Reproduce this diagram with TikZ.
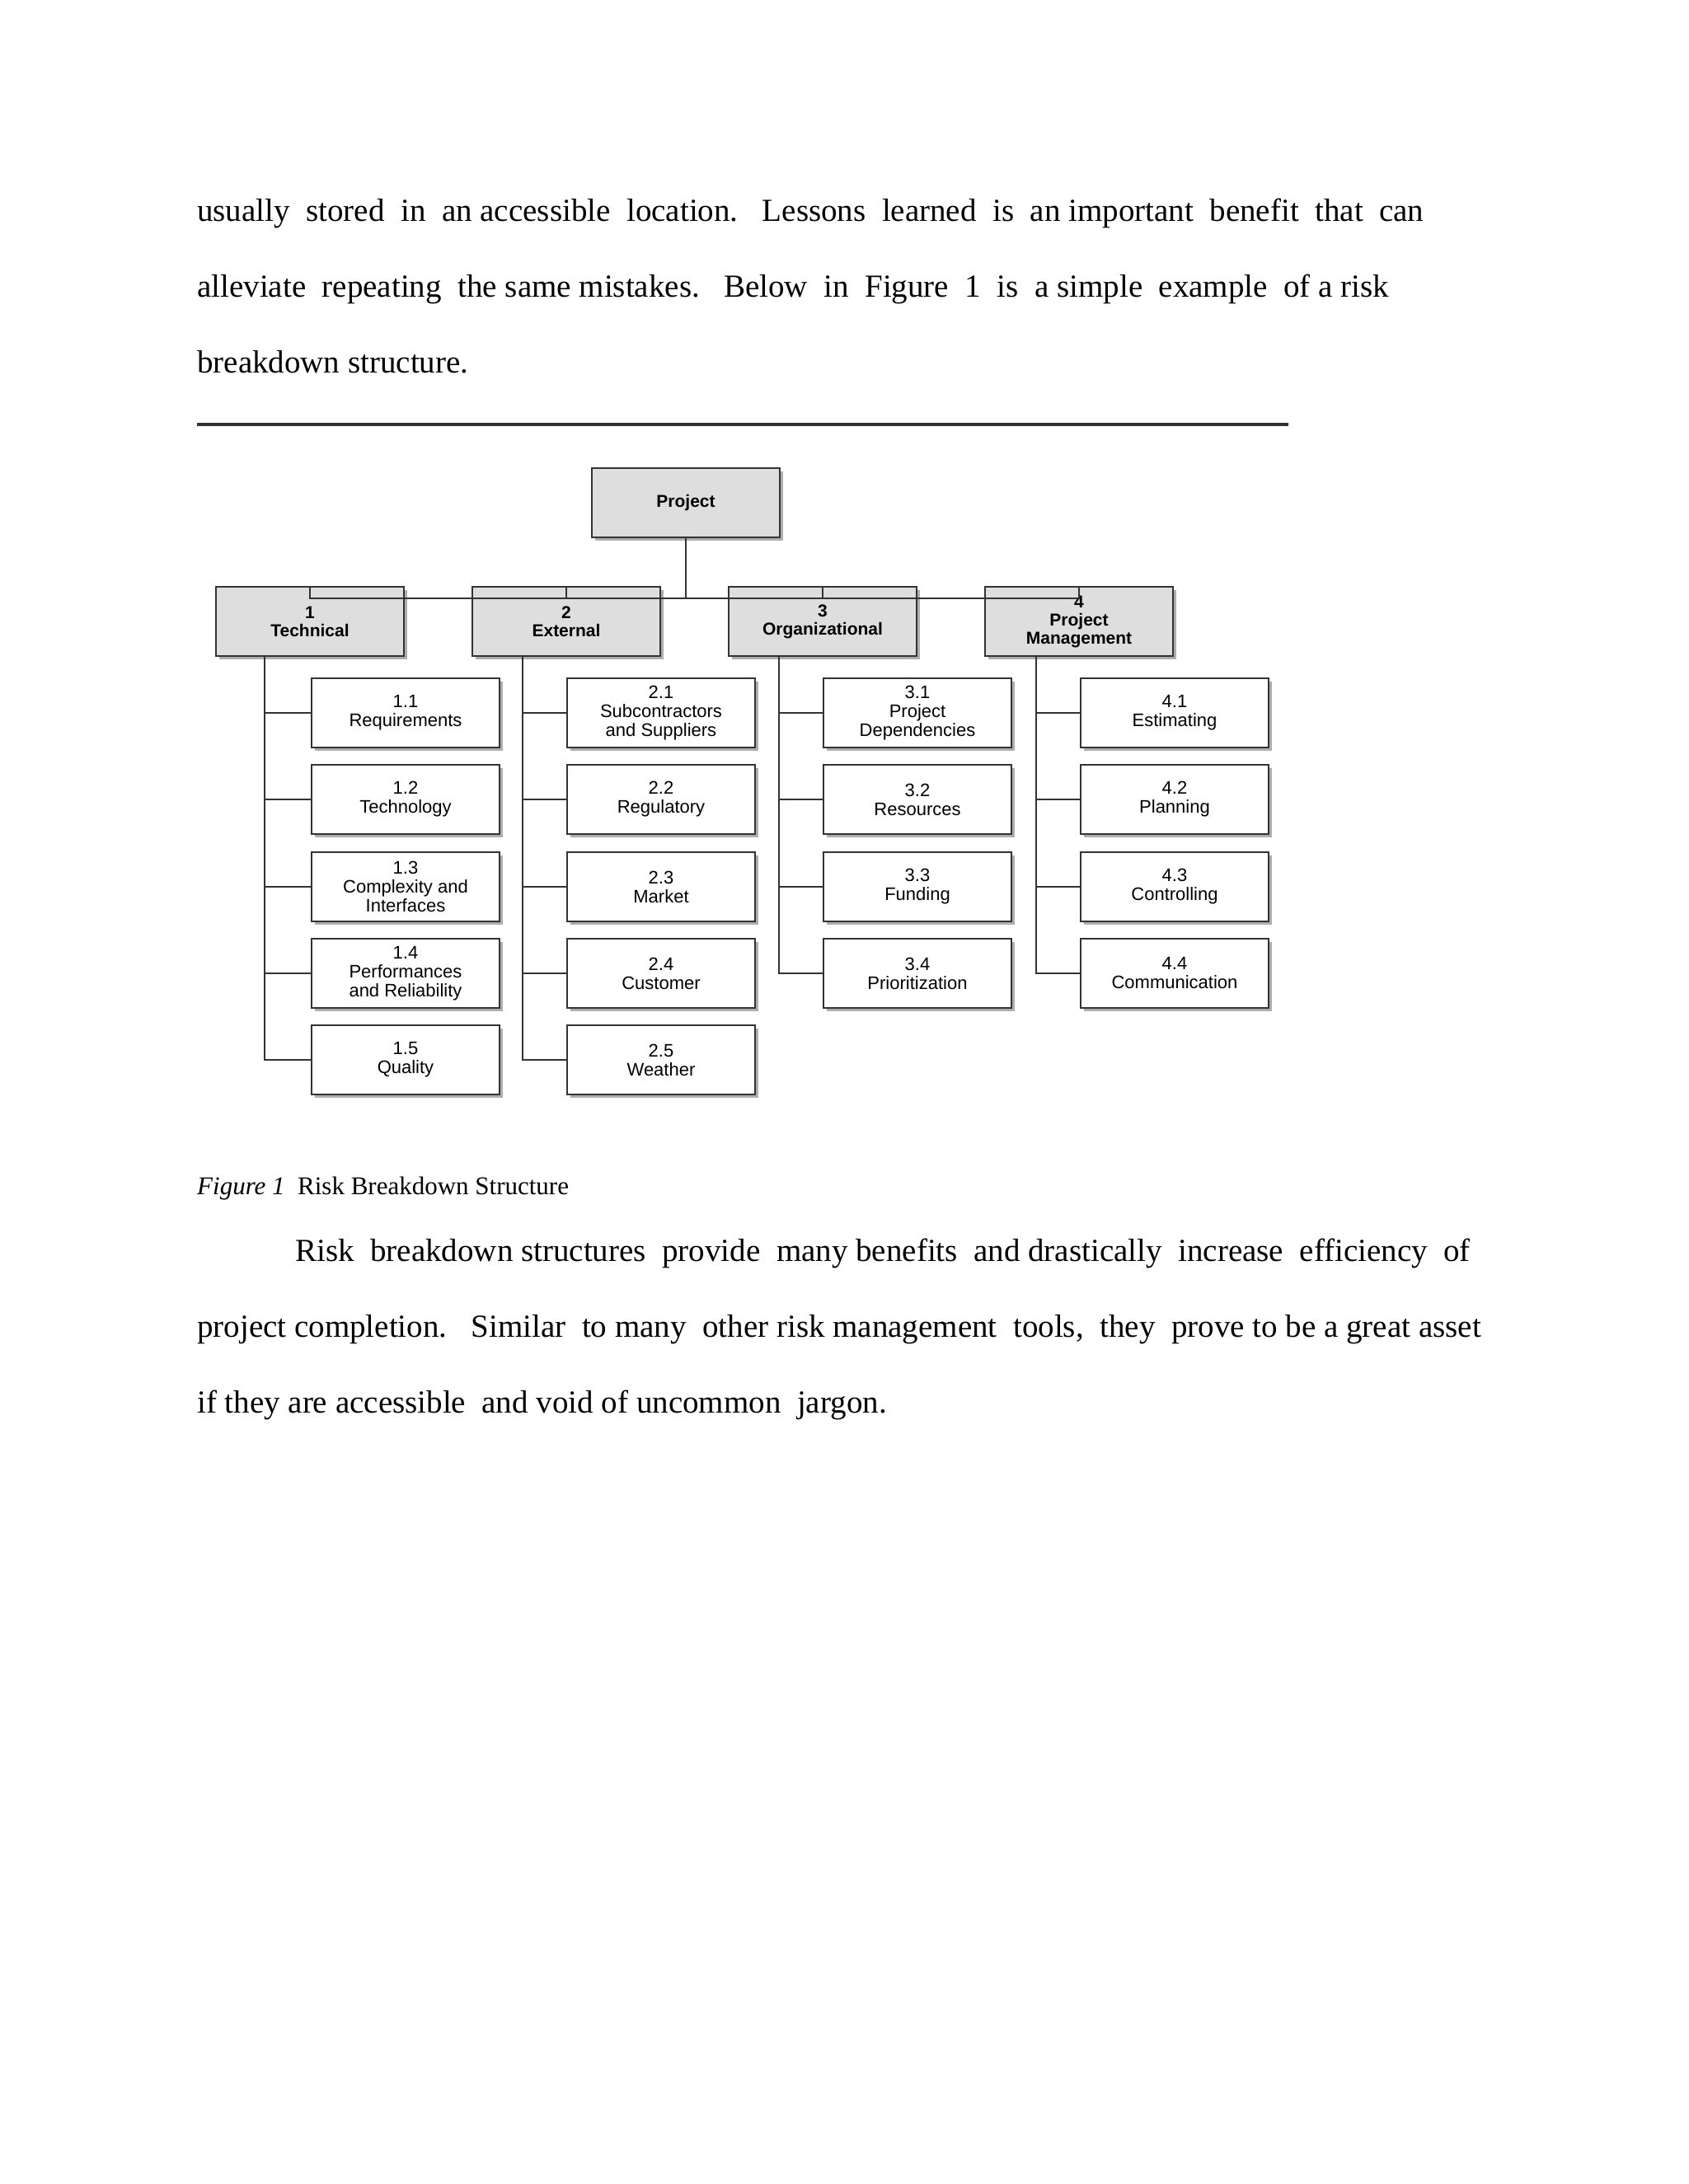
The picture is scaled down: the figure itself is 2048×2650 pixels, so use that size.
\documentclass[tikz,border=0pt]{standalone}
\usepackage{fontspec}
\setmainfont{Liberation Serif}
\setsansfont{Liberation Sans}
\usetikzlibrary{shadows}
\begin{document}
\begin{tikzpicture}[x=1pt,y=-1pt,
 body/.style={anchor=base west,inner sep=0,font=\fontsize{39}{46}\selectfont},
 box/.style={draw=black!80,line width=2.2pt,fill=white,minimum width=228,minimum height=84,align=center,inner sep=0,
   font=\sffamily\fontsize{22}{23}\selectfont,drop shadow={shadow xshift=4pt,shadow yshift=-4pt,fill=black!45,opacity=0.7}},
 top/.style={box,fill=black!13,font=\sffamily\bfseries\fontsize{21}{22}\selectfont},
 wire/.style={draw=black!80,line width=2.2pt}]
\useasboundingbox (0,0) rectangle (2048,2650);
\fill[white] (0,0) rectangle (2048,2650);
\node[body] (t1) at (239,268) {usually\ \ stored\ \ in\ \ an accessible\ \ location.\ \ \ Lessons\ \ learned\ \ is\ \ an important\ \ benefit\ \ that\ \ can};
\node[body] (t2) at (239,360) {alleviate\ \ repeating\ \ the same mistakes.\ \ \ Below\ \ in\ \ Figure\ \ 1\ \ is\ \ a simple\ \ example\ \ of a risk};
\node[body] (t3) at (239,452) {breakdown structure.};
\draw[line width=4pt,black!80] (239,515) -- (1563,515);

\node[top] (P) at (832,610) {Project};
\node[top] (A) at (376,754) {1\\Technical};
\node[top] (B) at (687,754) {2\\External};
\node[top] (C) at (998,754) {3\\Organizational};
\node[top] (D) at (1309,754) {4\\Project\\Management};
\foreach \n in {A,B,C,D} \draw[wire] (P.south) -- ++(0,73) -| (\n.north);

\node[box] (a1) at (492,865) {1.1\\Requirements};
\node[box] (a2) at (492,970) {1.2\\Technology};
\node[box] (a3) at (492,1076) {1.3\\Complexity and\\Interfaces};
\node[box] (a4) at (492,1181) {1.4\\Performances\\and Reliability};
\node[box] (a5) at (492,1286) {1.5\\Quality};
\node[box] (b1) at (802,865) {2.1\\Subcontractors\\and Suppliers};
\node[box] (b2) at (802,970) {2.2\\Regulatory};
\node[box] (b3) at (802,1076) {2.3\\Market};
\node[box] (b4) at (802,1181) {2.4\\Customer};
\node[box] (b5) at (802,1286) {2.5\\Weather};
\node[box] (c1) at (1113,865) {3.1\\Project\\Dependencies};
\node[box] (c2) at (1113,970) {3.2\\Resources};
\node[box] (c3) at (1113,1076) {3.3\\Funding};
\node[box] (c4) at (1113,1181) {3.4\\Prioritization};
\node[box] (d1) at (1425,865) {4.1\\Estimating};
\node[box] (d2) at (1425,970) {4.2\\Planning};
\node[box] (d3) at (1425,1076) {4.3\\Controlling};
\node[box] (d4) at (1425,1181) {4.4\\Communication};

\coordinate (ta) at ([xshift=-55pt]A.south);
\coordinate (tb) at ([xshift=-53pt]B.south);
\coordinate (tc) at ([xshift=-53pt]C.south);
\coordinate (td) at ([xshift=-52pt]D.south);
\draw[wire] (ta) |- (a5.west);
\draw[wire] (tb) |- (b5.west);
\draw[wire] (tc) |- (c4.west);
\draw[wire] (td) |- (d4.west);
\foreach \i in {1,...,4} \draw[wire] (ta |- a\i.west) -- (a\i.west);
\foreach \i in {1,...,4} \draw[wire] (tb |- b\i.west) -- (b\i.west);
\foreach \i in {1,...,3} \draw[wire] (tc |- c\i.west) -- (c\i.west);
\foreach \i in {1,...,3} \draw[wire] (td |- d\i.west) -- (d\i.west);

\node[body,font=\fontsize{31}{36}\selectfont] (cap) at (239,1449) {\textit{Figure 1}\ \ Risk\ Breakdown\ Structure};
\node[body] (p1) at (358,1530) {Risk\ \ breakdown\ structures\ \ provide\ \ many\ benefits\ \ and drastically\ \ increase\ \ efficiency\ \ of};
\node[body] (p2) at (239,1622) {project completion.\ \ \ Similar\ \ to many\ \ other\ risk\ management\ \ tools,\ \ they\ \ prove\ to be a great asset};
\node[body] (p3) at (239,1714) {if\ they\ are accessible\ \ and void\ of uncommon\ \ jargon.};
\end{tikzpicture}
\end{document}
